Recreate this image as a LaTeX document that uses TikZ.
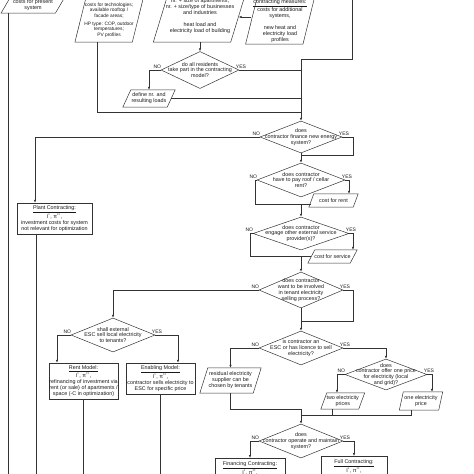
\documentclass[tikz,border=0pt]{standalone}
\usepackage{fontspec}
\setmainfont{Liberation Sans}
\usetikzlibrary{shapes.geometric,arrows.meta,calc}
\tikzset{
  ln/.style={draw=black!80, line width=0.5pt},
  arr/.style={ln, -{Latex[length=3pt,width=2.4pt]}},
  dia/.style={ln, diamond, inner sep=0pt},
  txt/.style={inner sep=0pt, align=center, font=\fontsize{5.4}{5.9}\selectfont, text=black!90},
  box/.style={ln, rectangle, inner sep=0pt, align=center, font=\fontsize{5.4}{6}\selectfont, text=black!90},
  pbox/.style={inner sep=0pt, align=center, font=\fontsize{5.4}{6}\selectfont, text=black!90},
  lbl/.style={inner sep=0.5pt, font=\fontsize{5}{5}\selectfont, text=black!90},
}
\newcommand\drawpara[2]{\draw[ln] ([xshift=#2pt]#1.north west) -- ([xshift=#2pt]#1.north east) -- ([xshift=-#2pt]#1.south east) -- ([xshift=-#2pt]#1.south west) -- cycle;}
\newcommand\Ipi{I\textsuperscript{*}, π\textsuperscript{**},}
\newcommand\labNO[1]{\node[lbl, anchor=south east] at ([xshift=1pt,yshift=1pt]#1.west) {NO};}
\newcommand\labYES[1]{\node[lbl, anchor=south west] at ([xshift=-4pt,yshift=1pt]#1.east) {YES};}
\begin{document}
\begin{tikzpicture}[x=1pt,y=-1pt]
\useasboundingbox (0,0) rectangle (474,474);
% ================= nodes
\node[pbox, minimum width=54, minimum height=16] (p1) at (33,5) {costs for present\\system};
\drawpara{p1}{4.8}
\node[pbox, minimum width=57, minimum height=43, font=\fontsize{4.85}{5.3}\selectfont] (p2) at (109,20.5) {costs for technologies;\\available rooftop /\\facade areas;\\[2.6pt]HP type: COP, outdoor\\temperatures;\\[1.2pt]PV profiles};
\drawpara{p2}{5.4}
\node[pbox, minimum width=77, minimum height=52] (p3) at (200,16) {nr. + size of apartments,\\nr. + size/type of businesses\\and industries\\[6pt]heat load and\\electricity load of building};
\drawpara{p3}{8}
\node[pbox, minimum width=57, minimum height=46] (p4) at (280,21) {\underline{contracting measures:}\\costs for additional\\systems,\\[6pt]new heat and\\electricity load\\profiles};
\drawpara{p4}{5.75}

\node[dia, minimum width=78, minimum height=37] (d1) at (200,70) {};
\node[txt] (d1t) at (d1) {do all residents\\take part in the contracting\\model?};
\node[pbox, minimum width=44, minimum height=17] (def) at (149,98.5) {define nr. and\\resulting loads};
\drawpara{def}{4}

\node[dia, minimum width=82, minimum height=32] (d2) at (301,137) {};
\node[txt] (d2t) at (d2) {does\\contractor finance new energy\\system?};
\node[box, minimum width=75, minimum height=31] (pc) at (54.5,218.5) {\underline{Plant Contracting:}\\\Ipi\\investment costs for system\\not relevant for optimization};

\node[dia, minimum width=88, minimum height=34] (d3) at (301,180) {};
\node[txt] (d3t) at (d3) {does contractor\\have to pay roof / cellar\\rent?};
\node[pbox, minimum width=44, minimum height=13] (cr) at (333.5,200.5) {cost for rent};
\drawpara{cr}{2.5}

\node[dia, minimum width=96, minimum height=33] (d4) at (301,233.5) {};
\node[txt] (d4t) at (d4) {does contractor\\engage other external service\\provider(s)?};
\node[pbox, minimum width=42, minimum height=13] (cs) at (332.5,256.5) {cost for service};
\drawpara{cs}{3.5}

\node[dia, minimum width=84, minimum height=36] (d5) at (301,290) {};
\node[txt] (d5t) at (d5) {does contractor\\want to be involved\\in tenant electricity\\selling process?};

\node[dia, minimum width=84, minimum height=34] (d7) at (113,335) {};
\node[txt] (d7t) at (d7) {shall external\\ESC sell local electricity\\to tenants?};
\node[box, minimum width=69, minimum height=36] (rm) at (83.5,381) {\underline{Rent Model:}\\\Ipi\\refinancing of investment via\\rent (or sale) of apartments /\\space (-C in optimization)};
\node[box, minimum width=69, minimum height=31] (em) at (160.5,378.5) {\underline{Enabling Model:}\\\Ipi\\contractor sells electricity to\\ESC for specific price};

\node[dia, minimum width=84, minimum height=34] (d6) at (301,348) {};
\node[txt] (d6t) at (d6) {is contractor an\\ESC or has licence to sell\\electricity?};
\node[pbox, minimum width=53, minimum height=25] (rs) at (230.5,380.5) {residual electricity\\supplier can be\\chosen by tenants};
\drawpara{rs}{4}

\node[dia, minimum width=82, minimum height=31] (d9) at (386,374.5) {};
\node[txt] (d9t) at (d9) {does\\contractor offer one price\\for electricity (local\\and grid)?};
\node[pbox, minimum width=37.5, minimum height=16] (tw) at (342.75,401) {two electricity\\prices};
\drawpara{tw}{3}
\node[pbox, minimum width=39, minimum height=18] (on) at (421,401) {one electricity\\price};
\drawpara{on}{2}

\node[dia, minimum width=84, minimum height=34] (d8) at (301,441) {};
\node[txt] (d8t) at (d8) {does\\contractor operate and maintain\\system?};
\node[box, anchor=north, minimum width=70, minimum height=20] (fb) at (250,458) {\underline{Financing Contracting:}\\\Ipi};
\node[box, anchor=north, minimum width=66, minimum height=20] (fu) at (354,456) {\underline{Full Contracting:}\\\Ipi};

% ================= labels
\labNO{d1}\labYES{d1}
\labNO{d2}\labYES{d2}
\labNO{d3}\labYES{d3}
\labNO{d4}\labYES{d4}
\labNO{d5}\labYES{d5}
\labNO{d6}\labYES{d6}
\labNO{d7}\labYES{d7}
\labNO{d8}\labYES{d8}
\labNO{d9}\labYES{d9}

% ================= connectors
\coordinate (a4) at ([yshift=4pt]p4.west);
\draw[arr] (a4) -- (a4 -| p3.east);
\draw[arr] (p3.south) -- (d1.north);
\draw[arr] (d1.west) -| (def.north);
\coordinate (tin) at (352,-5);
\coordinate (j0) at (301,59);
\draw[arr] (tin) |- (j0) -- (d2.north);
\draw[ln] (d1.east) -- (d1.east -| j0);
\draw[ln] (def.east) -- (def.east -| j0);
\coordinate (p2o) at ([xshift=-12pt]p2.south);
\draw[ln] (p2o) |- (j0 |- 0,112);
\draw[ln] ([xshift=-25pt]p1.south) -- ++(0,480);

\draw[arr] (d2.west) -| (pc.north -| 35,0);
\draw[ln] (pc.south -| 36,0) -- ++(0,300);
\coordinate (m2) at (301,155);
\draw[ln] (d2.east) -- ++(11,0) |- (m2);
\draw[arr] (d2.south) -- (d3.north);

\draw[arr] (d3.east) -| ([xshift=15.5pt]cr.north);
\coordinate (m3) at ([yshift=-3.5pt]cr.west);
\draw[ln] (d3.west) -- ++(-2,0) |- (m3);
\draw[arr] (d3.south |- m3) -- (d4.north);

\draw[arr] (d4.east) -| ([xshift=20.5pt]cs.north);
\draw[ln] (d4.west) -- ++(-3,0) |- (cs.west);
\draw[arr] (d4.south |- cs.west) -- (d5.north);

\coordinate (m5) at (301,321);
\draw[ln] (d5.east) -- ++(10,0) |- (m5);
\draw[arr] (d5.south) -- (d6.north);
\draw[arr] (d5.west) -| (d7.north);

\draw[arr] (d7.west) -| (rm.north -| 57,0);
\draw[arr] (d7.east) -| (em.north -| 178,0);
\draw[ln] (rm.south) -- ++(0,100);
\draw[ln] (em.south) -- ++(0,100);

\draw[arr] (d6.west) -| (rs.north);
\draw[arr] (d6.east) -| (d9.north);
\draw[arr] (d9.west) -| ([xshift=-5.75pt]tw.north);
\draw[arr] (d9.east) -| ([xshift=11pt]on.north);
\coordinate (m8) at (301,415);
\coordinate (m7) at (301,409);
\draw[ln] ([xshift=-10.75pt]tw.south) |- (m8);
\draw[ln] ([xshift=-10pt]on.south) |- (m8);
\draw[ln] (rs.south) |- (m7);
\draw[arr] (m7) -- (d8.north);

\draw[arr] (d8.west) -| (fb.north);
\draw[arr] (d8.east) -| (fu.north);
\end{tikzpicture}
\end{document}
